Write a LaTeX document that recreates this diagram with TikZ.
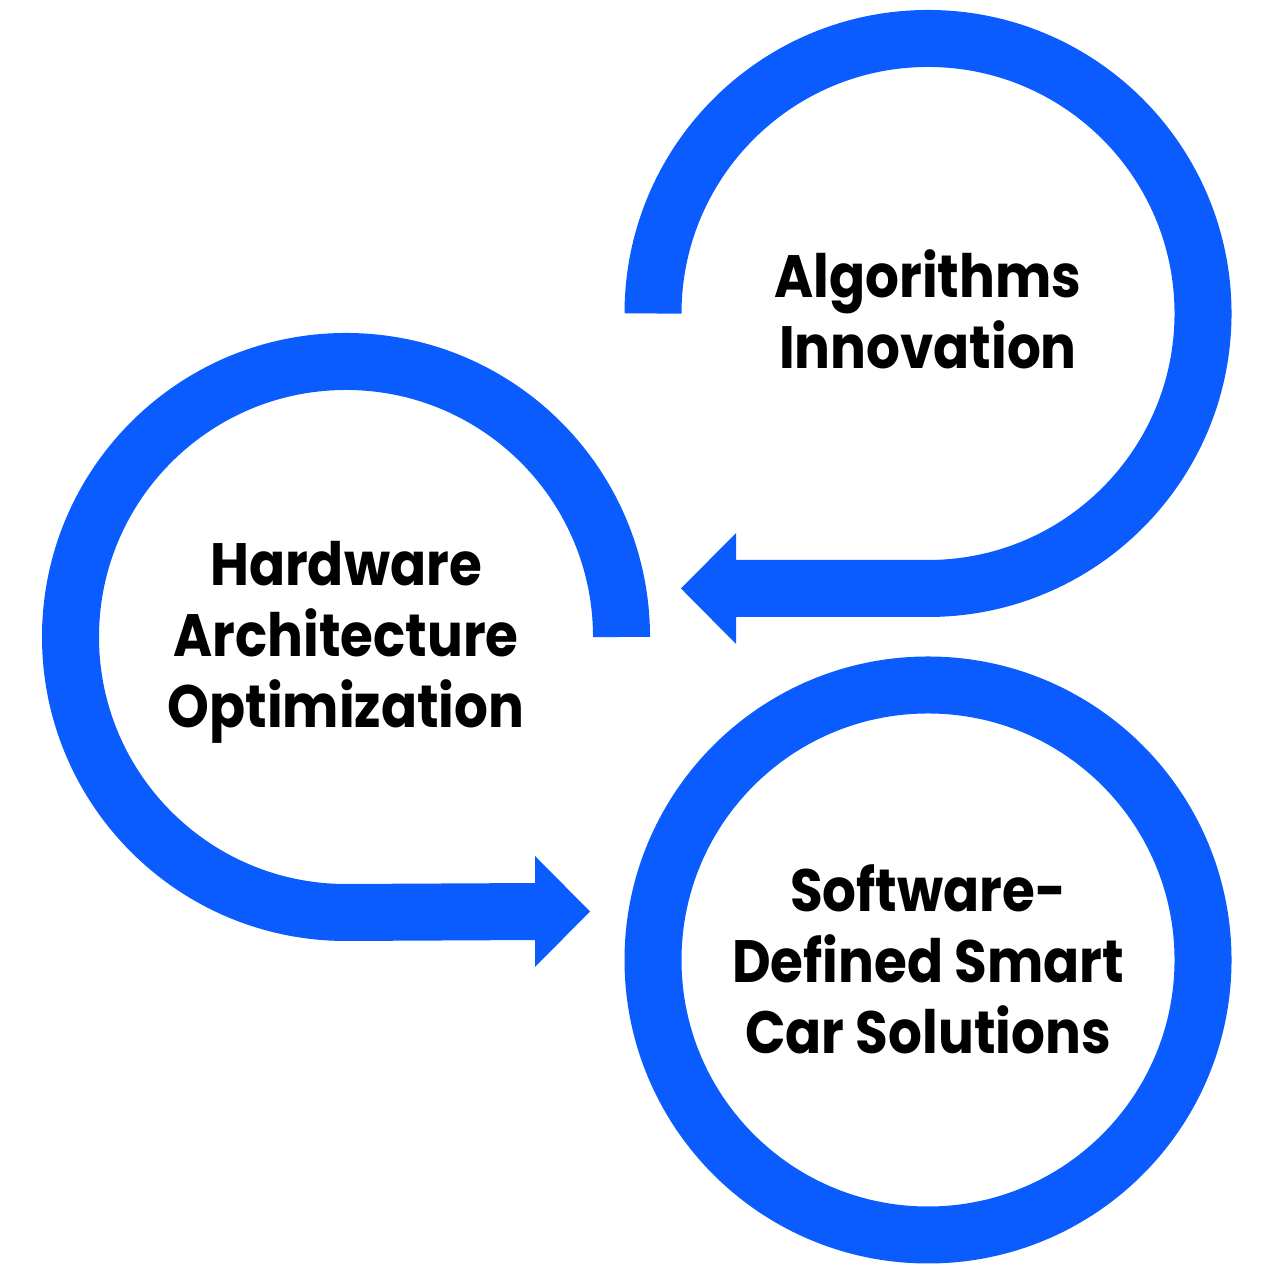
\documentclass[tikz,border=0pt]{standalone}
\usepackage{fontspec}
\setmainfont{Poppins}[FakeStretch=0.89]
\definecolor{ringblue}{HTML}{0A5CFF}
\tikzset{
  ring/.style={draw=ringblue, line width=0.57cm},
  label/.style={font=\bfseries\fontsize{17}{20.2}\selectfont, align=center, inner sep=0pt}
}

\begin{document}
\begin{tikzpicture}
\useasboundingbox (0,0) rectangle (12.8,12.8);

\coordinate (c1) at (9.28,9.665);
\coordinate (c2) at (3.46,6.43);
\coordinate (c3) at (9.28,3.20);
\coordinate (t1) at (6.81,6.915);
\coordinate (t2) at (5.90,3.685);

\draw[ring] (c1) ++(-2.75,0) arc[start angle=180, end angle=-90, radius=2.75] -- ([xshift=0.5cm]t1);
\fill[ringblue] (t1) -- ++(0.55,0.555) -- ++(0,-1.11) -- cycle;

\draw[ring] (c2) ++(2.755,0) arc[start angle=0, end angle=270, radius=2.755] -- ([xshift=-0.5cm]t2);
\fill[ringblue] (t2) -- ++(-0.55,0.555) -- ++(0,-1.11) -- cycle;

\draw[ring] (c3) circle[radius=2.75];

\node[label] (alg) at (9.28,9.71) {Algorithms\\Innovation};
\node[label] (hw) at (3.46,6.38) {Hardware\\Architecture\\Optimization};
\node[label] (sw) at (9.28,3.21) {Software-\\Defined Smart\\Car Solutions};
\end{tikzpicture}
\end{document}
